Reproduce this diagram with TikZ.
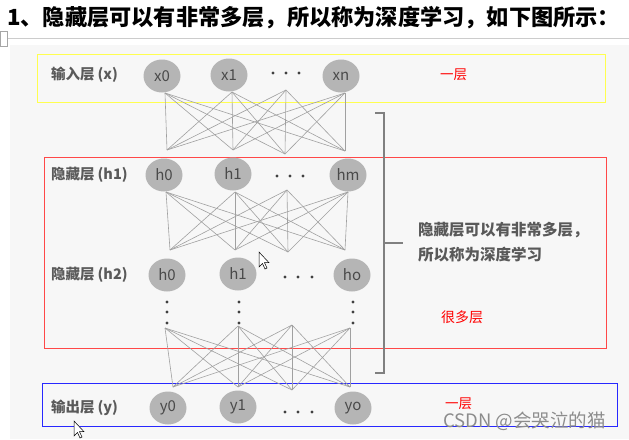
\documentclass[tikz,border=0pt]{standalone}
\usepackage{fontspec}
\setmainfont{Noto Sans CJK SC}
\usetikzlibrary{shapes.geometric}
\definecolor{bgg}{HTML}{F7F7F7}
\definecolor{nodefill}{HTML}{B5B5B5}
\definecolor{nodetext}{HTML}{4A4A4A}
\definecolor{linkc}{HTML}{A0A0A0}
\definecolor{labc}{HTML}{5A5A5A}
\definecolor{ylw}{HTML}{FFFF50}
\definecolor{rd}{HTML}{FF4848}
\definecolor{bl}{HTML}{2828FF}
\definecolor{brk}{HTML}{808080}
\tikzset{
  neuron/.style={ellipse, fill=nodefill, draw=none, minimum width=37, minimum height=33, inner sep=0pt, text=nodetext, font=\fontsize{15}{15}\selectfont},
  laylab/.style={anchor=west, text=labc, font=\fontsize{14.5}{14.5}\selectfont\bfseries, inner sep=0pt},
  link/.style={draw=linkc, line width=0.6pt},
  ddot/.style={circle, fill=black!75, inner sep=0pt, minimum size=3.2pt},
  redtxt/.style={text=red, font=\fontsize{13.5}{13.5}\selectfont, inner sep=0pt},
  cursorsh/.style={fill=white, draw=black, line width=0.5pt, line join=miter}
}
\begin{document}
\begin{tikzpicture}[x=1pt,y=-1pt]
\useasboundingbox (0,0) rectangle (629,439);
\fill[white] (0,0) rectangle (629,439);
% page background area
\fill[bgg] (10,45) rectangle (629,439);
\draw[black!20, line width=0.8pt] (7,38) -- (629,38);
\draw[black!35, line width=0.6pt] (0,31) rectangle (7,46);
% title
\node[anchor=west, inner sep=0pt, font=\fontsize{22.2}{22.2}\selectfont\bfseries] (title) at (7,18) {1、隐藏层可以有非常多层，所以称为深度学习，如下图所示：};
% boxes
\draw[ylw, line width=1pt] (37,54) rectangle (605,102);
\draw[rd, line width=1pt] (44,157) rectangle (606,348);
\draw[bl, line width=1pt] (42,383) rectangle (617,426);
% input layer
\node[laylab] (lin) at (51,75) {输入层\hspace{3pt}(x)};
\node[neuron] (x0) at (162,76) {x0};
\node[neuron] (x1) at (229,75) {x1};
\node[neuron] (xn) at (341,76) {xn};
\node[ddot] (xd1) at (273,73) {};
\node[ddot] (xd2) at (286,73) {};
\node[ddot] (xd3) at (299,73) {};
% hidden layer 1
\node[laylab] (lh1) at (51,175) {隐藏层\hspace{3pt}(h1)};
\node[neuron] (h0) at (164,175) {h0};
\node[neuron] (h1) at (233,174) {h1};
\node[neuron] (hm) at (348,175) {hm};
\node[ddot] (hd1) at (277,176) {};
\node[ddot] (hd2) at (290,176) {};
\node[ddot] (hd3) at (303,176) {};
% hidden layer 2
\node[laylab] (lh2) at (51,275) {隐藏层\hspace{3pt}(h2)};
\node[neuron] (g0) at (167,275) {h0};
\node[neuron] (g1) at (238,274) {h1};
\node[neuron] (go) at (352,275) {ho};
\node[ddot] (gd1) at (285,277) {};
\node[ddot] (gd2) at (298,277) {};
\node[ddot] (gd3) at (312,277) {};
% vertical dots
\foreach \n/\xx in {a/167,b/239,c/353}{
  \node[ddot] (v\n1) at (\xx,302) {};
  \node[ddot] (v\n2) at (\xx,312) {};
  \node[ddot] (v\n3) at (\xx,323) {};
}
% output layer
\node[laylab] (lout) at (51,408) {输出层\hspace{3pt}(y)};
\node[neuron] (y0) at (168,408) {y0};
\node[neuron] (y1) at (238,407) {y1};
\node[neuron] (yo) at (353,408) {yo};
\node[ddot] (yd1) at (285,412) {};
\node[ddot] (yd2) at (298,412) {};
\node[ddot] (yd3) at (312,412) {};
% connection points
\coordinate (ta1) at (165,93); \coordinate (ta2) at (232,92);
\coordinate (ta3) at (286,90); \coordinate (ta4) at (345,93);
\coordinate (ba1) at (167,150); \coordinate (ba2) at (233,150);
\coordinate (ba3) at (285,154); \coordinate (ba4) at (345,151);
\coordinate (tb1) at (166,192); \coordinate (tb2) at (235,192);
\coordinate (tb3) at (287,190); \coordinate (tb4) at (348,192);
\coordinate (bb1) at (170,250); \coordinate (bb2) at (235,250);
\coordinate (bb3) at (288,252); \coordinate (bb4) at (345,250);
\coordinate (tc1) at (165,328); \coordinate (tc2) at (238,326);
\coordinate (tc3) at (292,325); \coordinate (tc4) at (350,328);
\coordinate (bc1) at (173,387); \coordinate (bc2) at (238,387);
\coordinate (bc3) at (292,390); \coordinate (bc4) at (350,387);
\foreach \L in {a,b,c}{
  \foreach \i in {1,2,3,4}{
    \foreach \j in {1,2,3,4}{
      \draw[link] (t\L\i) -- (b\L\j);
    }
  }
}
% bracket
\draw[brk, line width=1.2pt] (375,113) -- (384,113) -- (384,373) -- (375,373);
\draw[brk, line width=1.2pt] (384,243) -- (403,243);
\node[anchor=west, inner sep=0pt, text=black!65, font=\fontsize{15.5}{15.5}\selectfont\bfseries] (bt1) at (418,230) {隐藏层可以有非常多层，};
\node[anchor=west, inner sep=0pt, text=black!65, font=\fontsize{15.5}{15.5}\selectfont\bfseries] (bt2) at (418,255) {所以称为深度学习};
% red labels
\node[redtxt, anchor=west] (one1) at (440,75) {一层};
\node[redtxt, anchor=west, font=\fontsize{14}{14}\selectfont] (many) at (441,317) {很多层};
\node[redtxt, anchor=west] (one2) at (445,404) {一层};
% watermark
\node[anchor=west, inner sep=0pt, text=black!45, font=\fontsize{18.5}{18.5}\selectfont] (wm) at (443,421) {CSDN @会哭泣的猫};
% cursors
\draw[cursorsh] (259,252) -- ++(0,15) -- ++(3.5,-3.5) -- ++(2.5,5.5) -- ++(2,-1) -- ++(-2.5,-5.3) -- ++(4.5,0) -- cycle;
\draw[cursorsh] (74,421) -- ++(0,15) -- ++(3.5,-3.5) -- ++(2.5,5.5) -- ++(2,-1) -- ++(-2.5,-5.3) -- ++(4.5,0) -- cycle;
\end{tikzpicture}
\end{document}
